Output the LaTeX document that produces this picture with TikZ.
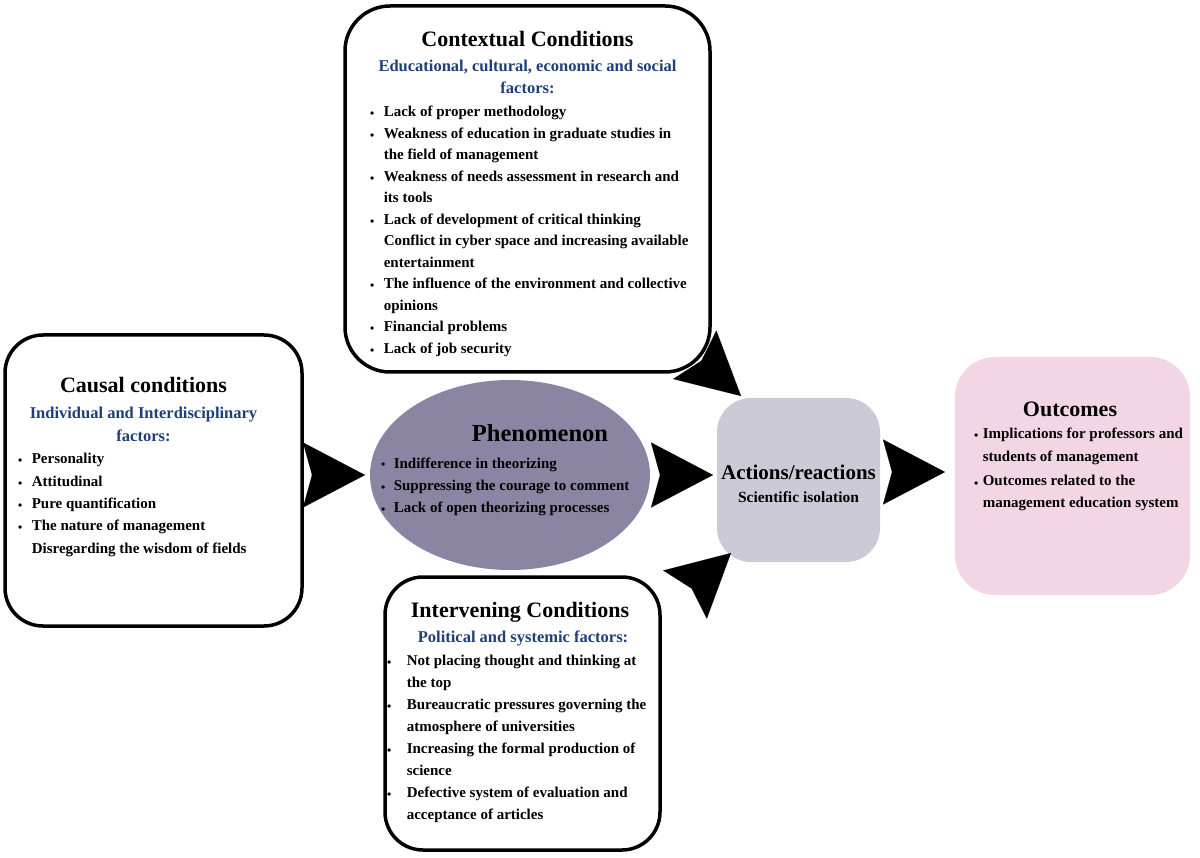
\documentclass[tikz,border=0pt]{standalone}
\usepackage{fontspec}
\setmainfont{Liberation Serif}
\usetikzlibrary{arrows.meta,%
                shapes.geometric}

\definecolor{factorblue}{RGB}{31,63,122}
\definecolor{phencolor}{RGB}{139,133,163}
\definecolor{actcolor}{RGB}{204,202,214}
\definecolor{outcolor}{RGB}{243,214,229}
\newcommand{\itemdot}{\raisebox{-1pt}{\fontsize{12}{12}\selectfont\textbullet}}

\begin{document}
\begin{tikzpicture}[x=1pt, y=-1pt,
frame/.style={rectangle, rounded corners=38pt, draw=black, line width=3.5pt,
inner sep=0pt, outer sep=0pt},
%
panel/.style={rectangle, rounded corners=36pt, inner sep=0pt, outer sep=0pt},
%
heading/.style={anchor=base, inner sep=0pt, font=\fontsize{22}{26}\selectfont\bfseries},
%
factors/.style={anchor=base, inner sep=0pt, text=factorblue,
font=\fontsize{16.5}{22.5}\selectfont\bfseries},
%
items/.style={anchor=base west, inner sep=0pt, font=\fontsize{15}{22}\selectfont\bfseries},
%
bigtip/.style={line width=.1pt, shorten <=10pt,
-{Stealth[length=62pt, width=65pt, inset=9pt]}}]

\useasboundingbox (0,0) rectangle (1200,858);

\begin{scope}[shift={(153.5,480.5)}]
  \node[frame, minimum width=297pt, minimum height=291pt] (causal) at (0,0) {};
  \node[heading] (causaltitle) at (-10,-87.5) {Causal conditions};
  \node[factors] (causalfactors) at (-10,-61.5)
    {\begin{tabular}[t]{@{}c@{}}Individual and Interdisciplinary\\ factors:\end{tabular}};
  \node[items, font=\fontsize{15}{22.3}\selectfont\bfseries] (causallist) at (-135.6,-16.5)
    {\begin{tabular}[t]{@{}l@{\hspace{9.5pt}}l@{}}
      \itemdot & Personality\\
      \itemdot & Attitudinal\\
      \itemdot & Pure quantification\\
      \itemdot & The nature of management\\
               & Disregarding the wisdom of fields
    \end{tabular}};
\end{scope}

\begin{scope}[shift={(527.5,189)}]
  \node[frame, rounded corners=45pt, minimum width=365pt, minimum height=366pt] (context) at (0,0) {};
  \node[heading] (contexttitle) at (0,-142) {Contextual Conditions};
  \node[factors, font=\fontsize{16.5}{22}\selectfont\bfseries] (contextfactors) at (0,-117)
    {\begin{tabular}[t]{@{}c@{}}Educational, cultural, economic and social\\ factors:\end{tabular}};
  \node[items, font=\fontsize{15}{21.5}\selectfont\bfseries] (contextlist) at (-157.6,-72)
    {\begin{tabular}[t]{@{}l@{\hspace{9.5pt}}l@{}}
      \itemdot & Lack of proper methodology\\
      \itemdot & Weakness of education in graduate studies in\\
               & the field of management\\
      \itemdot & Weakness of needs assessment in research and\\
               & its tools\\
      \itemdot & Lack of development of critical thinking\\
               & Conflict in cyber space and increasing available\\
               & entertainment\\
      \itemdot & The influence of the environment and collective\\
               & opinions\\
      \itemdot & Financial problems\\
      \itemdot & Lack of job security
    \end{tabular}};
\end{scope}

\begin{scope}[shift={(510,475)}]
  \node[ellipse, fill=phencolor, minimum width=280pt, minimum height=190pt,
        inner sep=0pt, outer sep=0pt] (phen) at (0,0) {};
  \node[heading, font=\fontsize{24.5}{28}\selectfont\bfseries] (phentitle) at (30,-33) {Phenomenon};
  \node[items] (phenlist) at (-129.1,-7)
    {\begin{tabular}[t]{@{}l@{\hspace{8.5pt}}l@{}}
      \itemdot & Indifference in theorizing\\
      \itemdot & Suppressing the courage to comment\\
      \itemdot & Lack of open theorizing processes
    \end{tabular}};
\end{scope}

\begin{scope}[shift={(798.5,480)}]
  \node[panel, rounded corners=34pt, fill=actcolor, minimum width=163pt, minimum height=164pt] (actions) at (0,0) {};
  \node[heading, font=\fontsize{21}{25}\selectfont\bfseries] (actionstitle) at (0,0) {Actions/reactions};
  \node[heading, font=\fontsize{15.5}{19}\selectfont\bfseries] (isolation) at (0,23) {Scientific isolation};
\end{scope}

\begin{scope}[shift={(1072.5,476)}]
  \node[panel, rounded corners=40pt, fill=outcolor, minimum width=235pt, minimum height=238pt] (outcomes) at (0,0) {};
  \node[heading] (outcomestitle) at (-2.5,-59) {Outcomes};
  \node[items] (outcomeslist) at (-98.6,-37)
    {\begin{tabular}[t]{@{}l@{\hspace{4.5pt}}l@{}}
      \itemdot & Implications for professors and\\
               & students of management\\[3pt]
      \itemdot & Outcomes related to the\\
               & management education system
    \end{tabular}};
\end{scope}

\begin{scope}[shift={(522.5,713.5)}]
  \node[frame, minimum width=275pt, minimum height=273pt] (inter) at (0,0) {};
  \node[heading] (intertitle) at (-2.5,-96.5) {Intervening Conditions};
  \node[factors] (interfactors) at (0.5,-71.5) {Political and systemic factors:};
  \node[items] (interlist) at (-135.6,-48.5)
    {\begin{tabular}[t]{@{}l@{\hspace{15.5pt}}l@{}}
      \itemdot & Not placing thought and thinking at\\
               & the top\\
      \itemdot & Bureaucratic pressures governing the\\
               & atmosphere of universities\\
      \itemdot & Increasing the formal production of\\
               & science\\
      \itemdot & Defective system of evaluation and\\
               & acceptance of articles
    \end{tabular}};
\end{scope}

%%%%%%%%%%%%%%%%%%%%%%%%%%%%%%%%%%%%
\begin{scope}
  \draw[bigtip] ([yshift=5.5pt]causal.east) -- ([xshift=-5pt]phen.west);
  \draw[bigtip] (phen.east) -- ([xshift=-4pt, yshift=5pt]actions.west);
  \draw[bigtip] ([xshift=2pt, yshift=8pt]actions.east) -- ([xshift=-10pt, yshift=4pt]outcomes.west);
  %%%%%%%%%%%%%%%%%%%%%%%%%%%%%%%%%%%%
  \draw[bigtip] ([xshift=-15pt, yshift=17pt]context.south east) -- ([xshift=24pt, yshift=2pt]actions.north west);
  \draw[bigtip] ([xshift=24pt, yshift=-18.5pt]inter.north east) -- ([xshift=14pt, yshift=9pt]actions.south west);
\end{scope}

\end{tikzpicture}
\end{document}
